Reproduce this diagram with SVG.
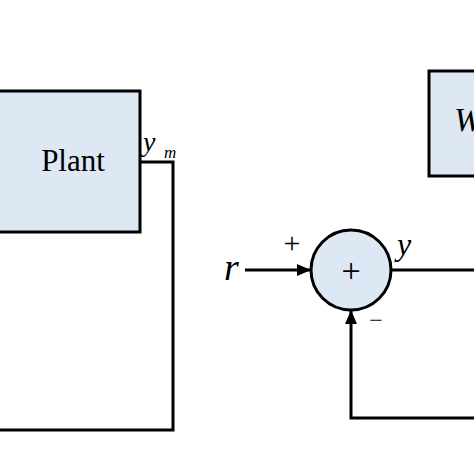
<svg xmlns="http://www.w3.org/2000/svg" width="474" height="474" viewBox="0 0 474 474">
<defs>
<style>
.box{fill:#dde8f4;stroke:#000;stroke-width:3}
.ln{fill:none;stroke:#000;stroke-width:3}
.t{font-family:"Liberation Serif",serif;fill:#000}
.i{font-style:italic}
</style>
<marker id="ah" viewBox="0 0 14 12" refX="14" refY="6" markerWidth="14" markerHeight="12" markerUnits="userSpaceOnUse" orient="auto">
<path d="M0,0 L14,6 L0,12 Z" fill="#000"/>
</marker>
</defs>
<rect width="474" height="474" fill="#fff"/>
<g id="plant">
<rect class="box" x="-5" y="91" width="145" height="141"/>
<text class="t" x="73" y="171" font-size="31" text-anchor="middle">Plant</text>
</g>
<g id="wbox">
<rect class="box" x="429" y="71" width="60" height="105"/>
<text class="t i" x="454" y="131" font-size="34">W</text>
</g>
<g id="sum">
<circle class="box" cx="351" cy="270" r="40"/>
<text class="t" x="351" y="282" font-size="34" text-anchor="middle">+</text>
</g>
<g id="connectors">
<polyline class="ln" points="140,162 173,162 173,430 -5,430"/>
<line class="ln" x1="245" y1="270" x2="311" y2="270" marker-end="url(#ah)"/>
<line class="ln" x1="391" y1="270" x2="480" y2="270"/>
<polyline class="ln" points="480,418 351,418 351,310" marker-end="url(#ah)"/>
</g>
<g id="labels">
<text class="t i" x="224" y="280" font-size="38">r</text>
<text class="t" x="292" y="253" font-size="30" text-anchor="middle">+</text>
<text class="t" x="376" y="328" font-size="24" fill="#333" text-anchor="middle">−</text>
<text class="t i" x="397" y="255" font-size="32">y</text>
<text class="t i" x="143" y="151" font-size="28">y</text>
<text class="t i" x="164" y="158" font-size="17">m</text>
</g>
</svg>
